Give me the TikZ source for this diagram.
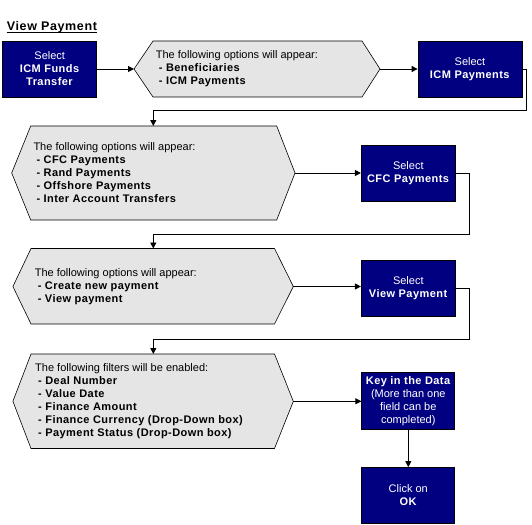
\documentclass[tikz,border=0pt]{standalone}
\usepackage{fontspec}
\setmainfont{Liberation Sans}[BoldFeatures={LetterSpace=4}]
\newfontfamily\titlefont[LetterSpace=5]{Liberation Sans}
\usetikzlibrary{arrows.meta}
\definecolor{navyfill}{RGB}{0,0,128}
\definecolor{hexgray}{RGB}{229,229,229}
\begin{document}
\begin{tikzpicture}[x=1pt,y=-1pt,
  navybox/.style={draw=black, fill=navyfill, text=white, align=center, inner sep=0pt,
    font=\fontsize{11}{13}\selectfont, line width=0.8pt, minimum width=94pt, minimum height=56pt},
  hexshape/.style={draw=black, fill=hexgray, line width=0.6pt},
  hextext/.style={anchor=west, align=left, inner sep=0pt, font=\fontsize{11}{13}\selectfont},
  conn/.style={draw=black, line width=0.9pt, -{Triangle[length=6pt,width=6pt]}}
]
\useasboundingbox (0,0) rectangle (532,524);

% title
\node[anchor=base west, inner sep=0pt, font=\titlefont\bfseries\fontsize{12.5}{15}\selectfont] (title) at (6.7,30.7) {View Payment};
\draw[line width=1.4pt] ([yshift=-1.6pt]title.base west) -- ([yshift=-1.6pt]title.base east);

% row 1
\node[navybox] (b1) at (49.7,69) {Select\\\textbf{ICM Funds}\\\textbf{Transfer}};
\draw[hexshape] (153,41) -- (362,41) -- (380,69) -- (362,97) -- (153,97) -- (134,69) -- cycle;
\coordinate (h1w) at (134,69);
\coordinate (h1e) at (380,69);
\node[hextext] (h1t) at (155.7,69) {The following options will appear:\\\hspace*{3pt}\textbf{- Beneficiaries}\\\hspace*{3pt}\textbf{- ICM Payments}};
\node[navybox, minimum width=104pt] (b2) at (470,69) {Select\\\textbf{ICM Payments}};

% row 2
\draw[hexshape] (30.7,126) -- (276.7,126) -- (295,173) -- (276.7,220) -- (30.7,220) -- (11.7,173) -- cycle;
\coordinate (h2n) at (153.3,126);
\coordinate (h2e) at (295,173);
\node[hextext] (h2t) at (33.3,173) {The following options will appear:\\\hspace*{3pt}\textbf{- CFC Payments}\\\hspace*{3pt}\textbf{- Rand Payments}\\\hspace*{3pt}\textbf{- Offshore Payments}\\\hspace*{3pt}\textbf{- Inter Account Transfers}};
\node[navybox] (b3) at (408.3,173) {Select\\\textbf{CFC Payments}};

% row 3
\draw[hexshape] (31,248.5) -- (274.5,248.5) -- (293.3,286.5) -- (274.5,324) -- (31,324) -- (12.9,286.5) -- cycle;
\coordinate (h3n) at (153.3,248.5);
\coordinate (h3e) at (293.3,286.5);
\node[hextext] (h3t) at (34.6,286.5) {The following options will appear:\\\hspace*{3pt}\textbf{- Create new payment}\\\hspace*{3pt}\textbf{- View payment}};
\node[navybox] (b4) at (408.3,288) {Select\\\textbf{View Payment}};

% row 4
\draw[hexshape] (31,354) -- (274.5,354) -- (293.3,401.3) -- (274.5,448.5) -- (31,448.5) -- (12.9,401.3) -- cycle;
\coordinate (h4n) at (153.3,354);
\coordinate (h4e) at (293.3,401.3);
\node[hextext] (h4t) at (35,401.3) {The following filters will be enabled:\\\hspace*{3pt}\textbf{- Deal Number}\\\hspace*{3pt}\textbf{- Value Date}\\\hspace*{3pt}\textbf{- Finance Amount}\\\hspace*{3pt}\textbf{- Finance Currency (Drop-Down box)}\\\hspace*{3pt}\textbf{- Payment Status (Drop-Down box)}};
\node[navybox, minimum width=93pt, minimum height=57pt] (b5) at (408.3,400.8) {\textbf{Key in the Data}\\(More than one\\field can be\\completed)};
\node[navybox, minimum width=93pt] (b6) at (408.3,495.5) {Click on\\\textbf{OK}};

% connectors
\draw[conn] (b1.east) -- (h1w);
\draw[conn] (h1e) -- (b2.west);
\draw[conn] (b2.east) -| (526,110.5) -| (h2n);
\draw[conn] (h2e) -- (h2e -| b3.west);
\draw[conn] (b3.east) -| (469.3,234.5) -| (h3n);
\draw[conn] (h3e) -- (h3e -| b4.west);
\draw[conn] (b4.east) -| (469.3,339.5) -| (h4n);
\draw[conn] (h4e) -- (h4e -| b5.west);
\draw[conn] (b5.south) -- (b6.north);
\end{tikzpicture}
\end{document}
